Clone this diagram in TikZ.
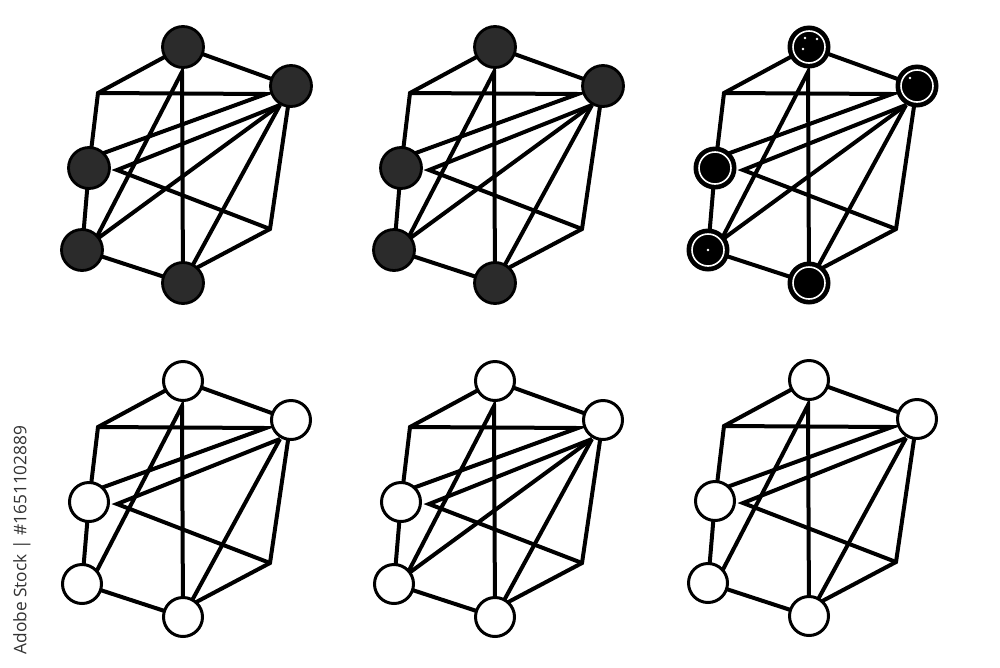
\documentclass[tikz,border=0pt]{standalone}
\usepackage{fontspec}
\usetikzlibrary{calc}
\newfontfamily\wmfont{Open Sans}
\pgfdeclarelayer{paper}
\pgfdeclarelayer{bg}
\pgfsetlayers{paper,bg,main}
\tikzset{
  edge/.style={line width=4pt, line join=miter, line cap=butt, draw=black},
  darknode/.style={circle, minimum size=41pt, inner sep=0pt, draw=black, line width=2.8pt, fill=black!83},
  ringnode/.style={circle, minimum size=41pt, inner sep=0pt, draw=black, line width=2pt, fill=black,
    path picture={\draw[white, line width=1.6pt] (path picture bounding box.center) circle[radius=16pt];}},
  opennode/.style={circle, minimum size=39pt, inner sep=0pt, draw=black, line width=3pt, fill=white},
  speck/.style={fill=white},
}
\newcommand\graphicon[5]{%
 \begin{scope}[shift={(#2,#3)}]
  \node[#4] (#1T) at (183,47) {};
  \node[#4] (#1R) at (291,86) {};
  \node[#4] (#1L) at (89,168) {};
  \node[#4] (#1BL) at (82,250) {};
  \node[#4] (#1B) at (183,283) {};
  \coordinate (#1A) at (98,93);
  \coordinate (#1C) at (270,229);
  \coordinate (#1J) at (117,170);
  \coordinate (#1Tv) at (182,72);
  \coordinate (#1Ra) at (266,94);
  \coordinate (#1Rv) at (280,105);
  \coordinate (#1Lu) at (101,154);
  \coordinate (#1Bc) at (185,274);
  \coordinate (#1BLt) at (90,250);
  \begin{pgfonlayer}{bg}
   \draw[edge] (#1T.center) -- (#1R.center);
   \draw[edge] (#1T.center) -- (#1A) -- (#1L.center);
   \draw[edge] (#1A) -- (#1Ra) -- (#1Lu);
   \draw[edge] (#1Rv) -- (#1J) -- (#1C);
   \draw[edge] (#1R.center) -- (#1C) -- (#1Bc);
   \draw[edge] (#1L.center) -- (#1BL.center);
   \draw[edge] (#1BLt) -- (#1Tv) -- (#1B.center);
   \draw[edge] (#1BL.center) -- (#1B.center);
   \draw[edge] (#1B.center) -- (#1Rv);
   \ifnum#5=1 \draw[edge] (#1BL.center) -- (#1Rv);\fi
  \end{pgfonlayer}
 \end{scope}}
\begin{document}
\begin{tikzpicture}[x=1pt, y=-1pt]
 \begin{pgfonlayer}{paper}
  \fill[white] (0,0) rectangle (1000,667);
 \end{pgfonlayer}
 \useasboundingbox (0,0) rectangle (1000,667);
 \graphicon{a}{0}{0}{darknode}{1}
 \graphicon{b}{312}{0}{darknode}{1}
 \graphicon{c}{626}{0}{ringnode}{1}
 \graphicon{d}{0}{334}{opennode}{0}
 \graphicon{e}{312}{334}{opennode}{1}
 \graphicon{f}{626}{333}{opennode}{0}
 % small highlights on the ringed nodes
 \fill[speck] ($(cT.center)+(-4,-9)$) circle[radius=1.4pt];
 \fill[speck] ($(cT.center)+(8,-8)$) circle[radius=1.4pt];
 \fill[speck] ($(cT.center)+(-6,2)$) circle[radius=1.4pt];
 \fill[speck] ($(cR.center)+(-7,-8)$) circle[radius=1.4pt];
 \fill[speck] (cBL.center) circle[radius=1.4pt];
 \node[rotate=90, text=black!80, font=\wmfont\fontsize{17.3}{19}\selectfont, inner sep=0pt] (wm) at (22,540) {Adobe Stock | \#1651102889};
\end{tikzpicture}
\end{document}
